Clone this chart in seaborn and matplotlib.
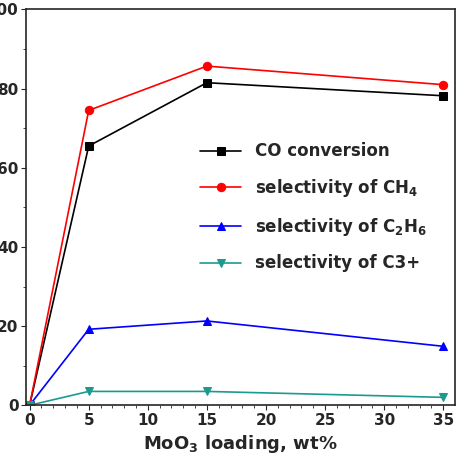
import matplotlib
matplotlib.use('Agg')
import matplotlib.pyplot as plt
import seaborn as sns
import pandas as pd

loading = [0, 5, 15, 35]
co_conv = [0, 65.5, 81.5, 78.2]
sel_ch4 = [0, 74.5, 85.7, 81.0]
sel_c2h6 = [0, 19.2, 21.3, 14.9]
sel_c3 = [0, 3.5, 3.5, 2.0]

series = [
	('CO conversion', co_conv, 'black', 's'),
	('selectivity of CH$_4$', sel_ch4, 'red', 'o'),
	('selectivity of C$_2$H$_6$', sel_c2h6, 'blue', '^'),
	('selectivity of C3+', sel_c3, '#1a9b8f', 'v'),
]

sns.set_style('ticks')
plt.rcParams['font.family'] = ['DejaVu Sans']
plt.rcParams['font.weight'] = 'bold'

fig = plt.figure(figsize=(4.74, 4.74), dpi=100)
ax = fig.add_axes([0.055, 0.145, 0.905, 0.835])
for name, vals, col, mk in series:
	df = pd.DataFrame({'x': loading, 'y': vals})
	sns.lineplot(data=df, x='x', y='y', ax=ax, color=col, marker=mk, markersize=6,
				 markeredgecolor=col, linewidth=1.2, label=name)

ax.set_xlim(-0.3, 36)
ax.set_ylim(0, 100)
ax.set_xticks(range(0, 36, 5))
ax.set_yticks(range(0, 101, 20))
ax.set_xticks(range(0, 36, 1), minor=True)
ax.set_yticks(range(0, 101, 10), minor=True)
ax.tick_params(labelsize=11, direction='out', pad=2)
for lab in ax.get_xticklabels() + ax.get_yticklabels():
	lab.set_fontweight('bold')
ax.set_xlabel('MoO$_3$ loading, wt%', fontsize=13, fontweight='bold')
ax.set_ylabel('')
for s in ax.spines.values():
	s.set_linewidth(1.2)
ax.legend(loc='center left', bbox_to_anchor=(0.37, 0.5), frameon=False,
		  prop={'size': 12, 'weight': 'bold'}, handlelength=2.5, labelspacing=1.0)
fig.savefig('out.png', dpi=100)
